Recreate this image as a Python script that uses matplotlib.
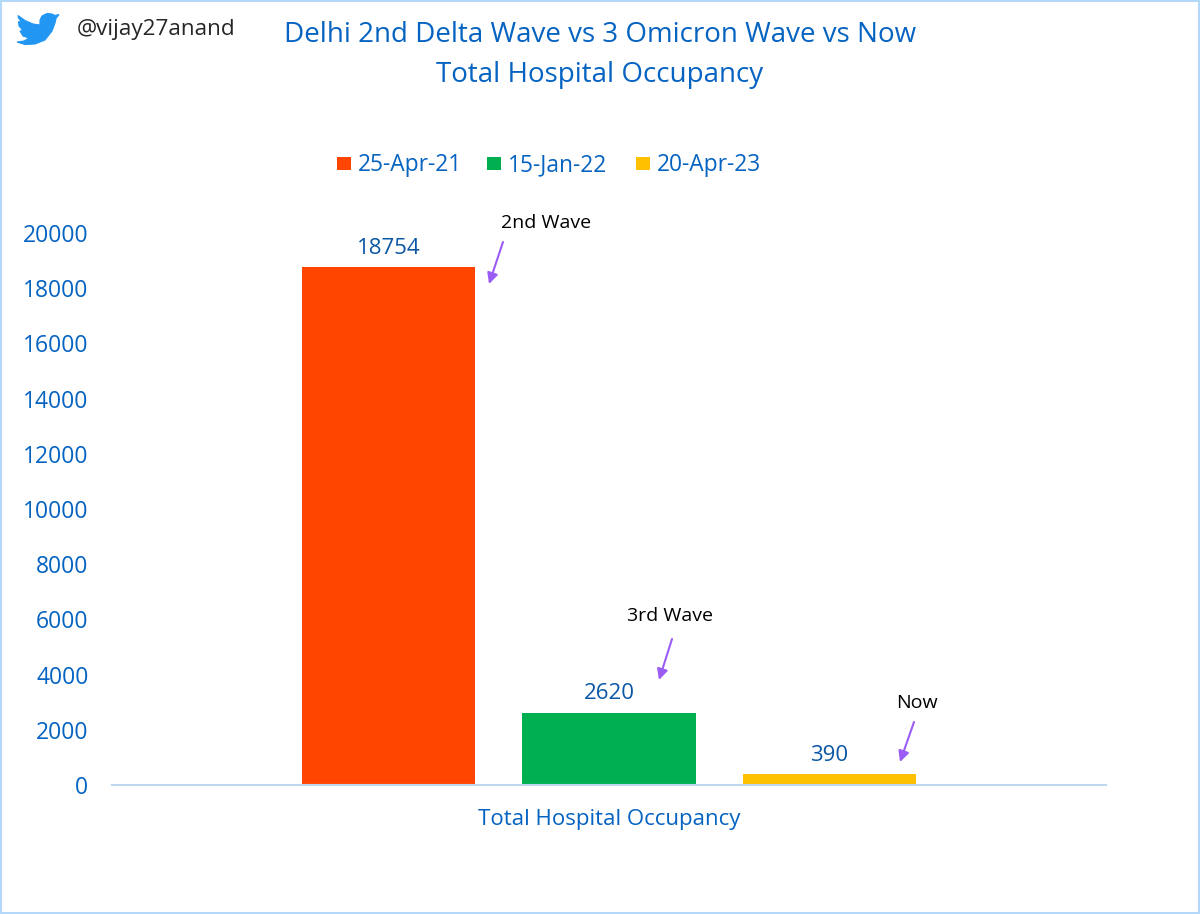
import matplotlib
matplotlib.use("Agg")
from matplotlib import pyplot as plt
from matplotlib.patches import Polygon, Rectangle

plt.rcParams['font.family'] = ['Open Sans', 'DejaVu Sans']

dates = ["25-Apr-21", "15-Jan-22", "20-Apr-23"]
values = [18754, 2620, 390]
bar_colors = ["#FF4500", "#00B050", "#FFC000"]
yticks = [0, 2000, 4000, 6000, 8000, 10000, 12000, 14000, 16000, 18000, 20000]

blue = "#0563C1"
W, H = 1200, 914

fig = plt.figure(figsize=(W / 100, H / 100), dpi=100, facecolor="white")

# bar axes, placed in pixels
ax = fig.add_axes([112 / W, 1 - 785 / H, (1106 - 112) / W, (785 - 233) / H])
ax.bar([0, 1, 2], values, width=0.785, color=bar_colors)
ax.set_xlim(-1.254, 3.254)
ax.set_ylim(0, 20000)
ax.set_yticks(yticks)
ax.set_xticks([])
ax.tick_params(axis="y", length=0, pad=17, labelsize=16.5, labelcolor=blue)
for s in ["top", "right", "left"]:
    ax.spines[s].set_visible(False)
ax.spines["bottom"].set_color("#BDD7EE")
ax.spines["bottom"].set_linewidth(1.5)
for i, v in enumerate(values):
    ax.annotate(str(v), (i, v), xytext=(0, 6), textcoords="offset points", ha="center",
                va="bottom", fontsize=16, color="#0B57A4")

# overlay in pixel coords for the text and arrows
ov = fig.add_axes([0, 0, 1, 1], facecolor="none")
ov.set_xlim(0, W)
ov.set_ylim(H, 0)
ov.axis("off")

ov.add_patch(Rectangle((1, 1), W - 2, H - 2, fill=False, ec="#B4D8FA", lw=1.5))

ov.text(600, 35, "Delhi 2nd Delta Wave vs 3 Omicron Wave vs Now", ha="center", va="center",
        fontsize=20, color=blue)
ov.text(600, 75, "Total Hospital Occupancy", ha="center", va="center", fontsize=20, color=blue)
ov.text(77, 30, "@vijay27anand", ha="left", va="center", fontsize=16.2, color="#262626")
ov.text(609, 820, "Total Hospital Occupancy", ha="center", va="center", fontsize=16, color=blue)

# legend
for x, lab, c in zip([337, 487, 636], dates, bar_colors):
    ov.add_patch(Rectangle((x, 157), 14, 13, fc=c, ec="none"))
    ov.text(x + 21, 171, lab, ha="left", va="baseline", fontsize=16.4, color=blue)

# notes with arrows
notes = ["2nd Wave", "3rd Wave", "Now"]
note_pos = [(546, 223), (670, 616), (917, 703)]
arrow_start = [(503, 242), (672, 639), (914, 722)]
arrow_end = [(489, 284), (659, 680), (900, 762)]
for t, p, a, b in zip(notes, note_pos, arrow_start, arrow_end):
    ov.text(p[0], p[1], t, ha="center", va="center", fontsize=14, color="black")
    ov.annotate("", xy=b, xytext=a,
                arrowprops=dict(arrowstyle="-|>", color="#9B5CF6", lw=1.5, mutation_scale=16,
                                shrinkA=0, shrinkB=0))

# twitter bird
bird = [(47, 13.5), (52, 14), (55, 15.5), (59, 14.5), (56, 18.5), (55, 23), (52, 31), (45, 40),
        (35, 44), (25, 44.5), (17, 42), (24, 41), (29, 38), (23, 36), (20, 31), (23, 30.5),
        (19, 26), (18.5, 21.5), (22, 22.5), (18.5, 18), (18, 15.5), (25, 20.5), (33, 24), (40, 25),
        (40, 20), (42, 16)]
ov.add_patch(Polygon(bird, closed=True, fc="#2196F3", ec="#2196F3", lw=0.8))

fig.savefig("out.png", dpi=100, facecolor="white")
